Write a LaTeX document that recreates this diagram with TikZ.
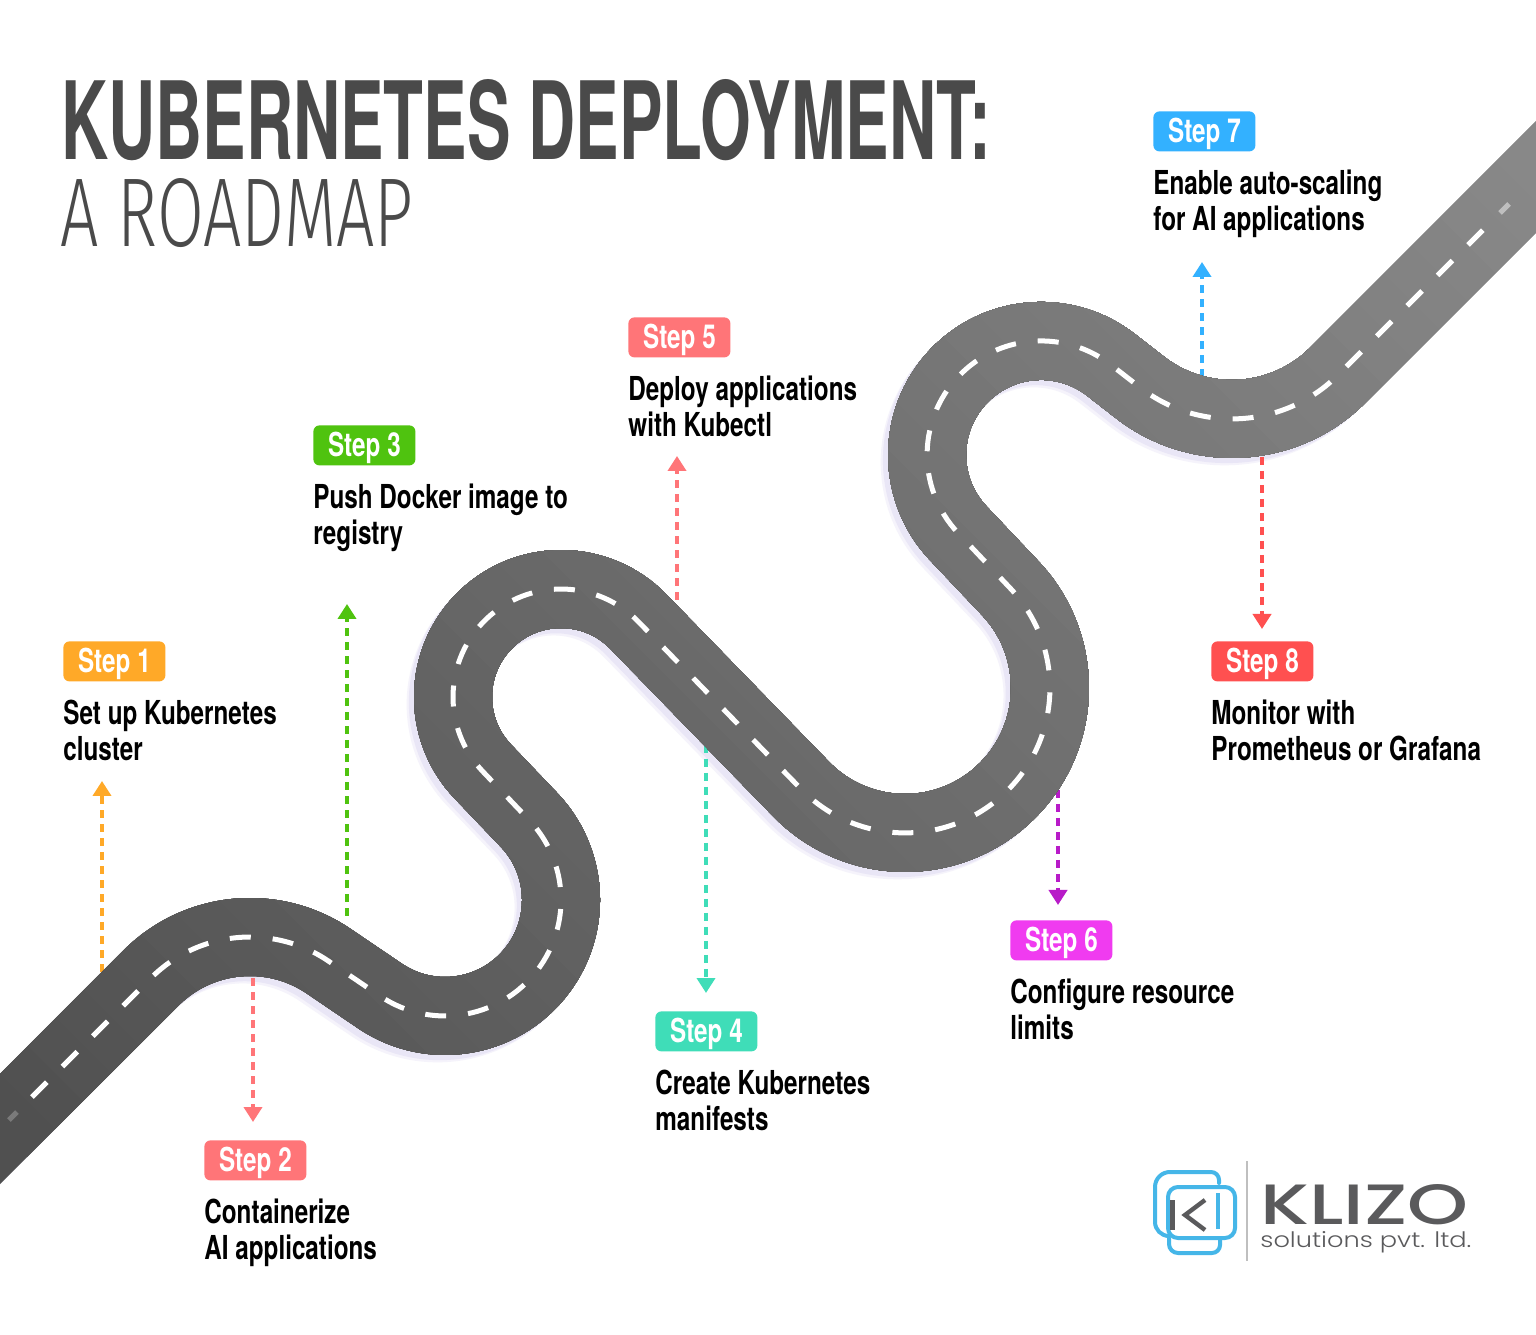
\documentclass[tikz,border=0pt]{standalone}
\usepackage{fontspec}
\usetikzlibrary{arrows.meta}
\setmainfont{Liberation Sans}
\newfontfamily\osw{TeX Gyre Heros}[FakeStretch=0.735]
\newfontfamily\ttl{TeX Gyre Heros}
\newfontfamily\ttllight{Fira Sans}[UprightFont=* Light]
\newfontfamily\logof{Poppins}[UprightFont=* Medium]
\newfontfamily\logofl{Poppins}[UprightFont=* Light]
\definecolor{ink}{HTML}{4A4A4A}
\definecolor{logoblue}{HTML}{45B6E8}
\definecolor{logogrey}{HTML}{5A5A5C}
\definecolor{cOrange}{HTML}{FFA928}
\definecolor{cPink}{HTML}{FF7578}
\definecolor{cGreen}{HTML}{4FC30F}
\definecolor{cTeal}{HTML}{3FDDB8}
\definecolor{cMag}{HTML}{F03BF0}
\definecolor{cPurple}{HTML}{B81BC8}
\definecolor{cBlue}{HTML}{33B1FF}
\definecolor{cRed}{HTML}{FF5050}
\definecolor{cShadeA}{HTML}{E9E6F6}
\definecolor{cShadeB}{HTML}{F5F3FB}
\tikzset{
  badge/.style={fill=#1,rounded corners=3pt,minimum width=51pt,minimum height=20pt,inner sep=0pt,text=white,
    font=\osw\bfseries\fontsize{16.5}{18}\selectfont,anchor=north west},
  bodytext/.style={inner sep=0pt,anchor=north west,align=left,text=black,
    font=\osw\bfseries\fontsize{16.5}{18}\selectfont},
  guide/.style={draw=#1,line width=2pt,dash pattern=on 4pt off 3pt,-{Triangle[length=7.5pt,width=9pt,fill=#1]}},
  roadline/.style={line width=39pt},
  lane/.style={draw=white,line width=2.5pt,dash pattern=on 10.5pt off 11pt},
  logoline/.style={draw=logoblue,line width=2pt,line cap=round},
}
\def\roadmid{-- (151,356) arc[start angle=135,end angle=55.8,radius=140]
 -- (380,338) arc[start angle=235.9,end angle=403.56,radius=116]
 -- (482.8,562.5) arc[start angle=223.6,end angle=44.17,radius=108]
 -- (801,545) arc[start angle=224.2,end angle=403.4,radius=145]
 -- (958.4,800.6) arc[start angle=223.5,end angle=52.2,radius=114]
 -- (1140.2,946.4) arc[start angle=232.3,end angle=315,radius=150]}
\newcommand{\twolines}[2]{\rule{0pt}{14pt}#1\\#2}
\newcommand{\steptext}[1]{\raisebox{-5.5pt}[0pt][0pt]{#1}}
\begin{document}
\begin{tikzpicture}[x=0.5pt,y=0.5pt]
\useasboundingbox (0,0) rectangle (1536,1334);
\clip (0,0) rectangle (1536,1334);
\fill[white] (0,0) rectangle (1536,1334);
% title
\node[inner sep=0pt,anchor=south west,text=ink] (title) at (61,1173)
  {\resizebox{465pt}{40pt}{\ttl\bfseries KUBERNETES DEPLOYMENT:}};
\node[inner sep=0pt,anchor=south west,text=ink] (subtitle) at (60,1086)
  {\resizebox{176.5pt}{34pt}{\ttllight A ROADMAP}};
% shadow (falls down and to the left)
\begin{scope}[xshift=-3.7pt,yshift=-3.7pt]
\draw[roadline,draw=cShadeB] (-30,175) \roadmid -- (1566,1187);
\end{scope}
\begin{scope}[xshift=-2.6pt,yshift=-2.6pt]
\draw[roadline,draw=cShadeA] (-30,175) \roadmid -- (1566,1187);
\end{scope}
% connectors
\coordinate (a1s) at (102,362); \coordinate (a1e) at (102,553);
\coordinate (a2s) at (253,356); \coordinate (a2e) at (253,212);
\coordinate (a3s) at (347,418); \coordinate (a3e) at (347,730);
\coordinate (a4s) at (706,589); \coordinate (a4e) at (706,341);
\coordinate (a5s) at (677,734); \coordinate (a5e) at (677,878);
\coordinate (a6s) at (1058,544); \coordinate (a6e) at (1058,429);
\coordinate (a7s) at (1202,957); \coordinate (a7e) at (1202,1072);
\coordinate (a8s) at (1262,877); \coordinate (a8e) at (1262,705);
\draw[guide=cOrange] (a1s) -- (a1e);
\draw[guide=cPink] (a2s) -- (a2e);
\draw[guide=cGreen] (a3s) -- (a3e);
\draw[guide=cTeal] (a4s) -- (a4e);
\draw[guide=cPink] (a5s) -- (a5e);
\draw[guide=cPurple] (a6s) -- (a6e);
\draw[guide=cBlue] (a7s) -- (a7e);
\draw[guide=cRed] (a8s) -- (a8e);
% road with graded grey
\draw[roadline,draw=black!68.6] (-30,175) \roadmid -- (1566,1187);
\foreach \i in {0,...,44}{
  \pgfmathsetmacro{\tt}{204+\i*56}
  \pgfmathsetmacro{\kk}{68.6-\i*0.5}
  \begin{scope}
    \clip (\tt+3000,-3000) -- (\tt-3000,3000) -- (\tt+1000,7000) -- (\tt+7000,1000) -- cycle;
    \draw[roadline,draw=black!\kk] (-30,175) \roadmid -- (1566,1187);
  \end{scope}
}
\draw[lane] (32,237) \roadmid -- (1484,1105);
\draw[line width=2.5pt,draw=black!52] (9,214) -- (17,222);
\draw[line width=2.5pt,draw=black!25] (1500,1121) -- (1509,1130);
% badges and texts
\node[badge=cOrange] (b1) at (63,693) {\steptext{Step 1}};
\node[badge=cPink] (b2) at (204,194) {\steptext{Step 2}};
\node[badge=cGreen] (b3) at (313,909) {\steptext{Step 3}};
\node[badge=cTeal] (b4) at (655,323) {\steptext{Step 4}};
\node[badge=cPink] (b5) at (628,1017) {\steptext{Step 5}};
\node[badge=cMag] (b6) at (1010,414) {\steptext{Step 6}};
\node[badge=cBlue] (b7) at (1153,1223) {\steptext{Step 7}};
\node[badge=cRed] (b8) at (1211,693) {\steptext{Step 8}};
\node[bodytext] (t1) at (63,638) {\twolines{Set up Kubernetes}{cluster}};
\node[bodytext] (t2) at (204,139) {\twolines{Containerize}{AI applications}};
\node[bodytext] (t3) at (313,854) {\twolines{Push Docker image to}{registry}};
\node[bodytext] (t4) at (655,268) {\twolines{Create Kubernetes}{manifests}};
\node[bodytext] (t5) at (628,962) {\twolines{Deploy applications}{with Kubectl}};
\node[bodytext] (t6) at (1010,359) {\twolines{Configure resource}{limits}};
\node[bodytext] (t7) at (1153,1168) {\twolines{Enable auto-scaling}{for AI applications}};
\node[bodytext] (t8) at (1211,638) {\twolines{Monitor with}{Prometheus or Grafana}};
% logo
\draw[draw=black!25,line width=0.7pt] (1247,173) -- (1247,73);
\draw[logoline] (1219,151) -- (1219,154) arc[start angle=0,end angle=90,radius=8] -- (1170,162) arc[start angle=90,end angle=180,radius=15] -- (1155,112) arc[start angle=180,end angle=270,radius=14];
\draw[logoline,rounded corners=5pt] (1168,147) rectangle (1235,96);
\draw[logoline] (1169,96) -- (1169,90) arc[start angle=180,end angle=270,radius=9] -- (1212,81) arc[start angle=270,end angle=360,radius=8] -- (1220,96);
\draw[logoline,line cap=butt] (1217.5,141) -- (1217.5,105);
\draw[draw=logogrey,line width=2.2pt] (1172.5,134) -- (1172.5,104);
\draw[draw=logogrey,line width=2.2pt] (1205,134) -- (1185,119) -- (1205,104);
\node[inner sep=0pt,anchor=south west,text=logogrey] (klizo) at (1260,109)
  {\resizebox{104pt}{20pt}{\logof KLIZO}};
\node[inner sep=0pt,anchor=base west,text=logogrey] (solutions) at (1260,87)
  {\resizebox{105.5pt}{8pt}{\logofl solutions pvt. ltd.}};
\end{tikzpicture}
\end{document}
